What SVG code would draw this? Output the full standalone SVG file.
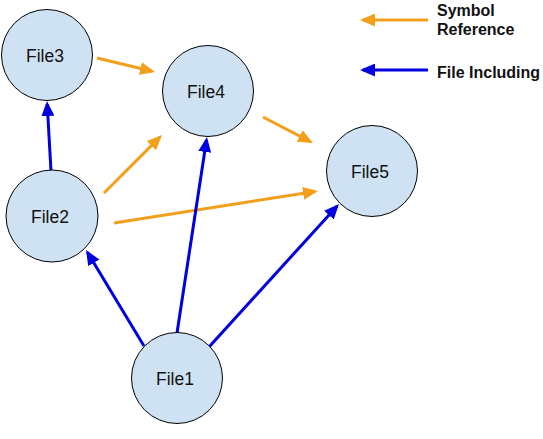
<svg xmlns="http://www.w3.org/2000/svg" width="543" height="439" viewBox="0 0 543 439">
<style>
.node circle{fill:#cfe2f3;stroke:#000;stroke-width:1}
.node text{font-family:"Liberation Sans",Arial,sans-serif;font-size:17.5px;fill:#111;text-anchor:middle}
.sym{stroke:#f29f1c;stroke-width:3;fill:none;marker-end:url(#ho)}
.inc{stroke:#0000e0;stroke-width:3;fill:none;marker-end:url(#hb)}
.leg{font-family:"Liberation Sans",Arial,sans-serif;font-size:16px;font-weight:bold;fill:#111}
</style>
<defs>
<marker id="ho" markerUnits="userSpaceOnUse" markerWidth="15" markerHeight="13" refX="12" refY="6.5" orient="auto"><path d="M0,0 L15,6.5 L0,13 z" fill="#f29f1c"/></marker>
<marker id="hb" markerUnits="userSpaceOnUse" markerWidth="15" markerHeight="13" refX="12" refY="6.5" orient="auto"><path d="M0,0 L15,6.5 L0,13 z" fill="#0000e0"/></marker>
</defs>
<rect width="543" height="439" fill="#fff"/>
<g id="connectors">
<line class="sym" x1="97" y1="58" x2="152.1" y2="71.3"/>
<line class="sym" x1="104" y1="193" x2="159.9" y2="137.1"/>
<line class="sym" x1="263" y1="117" x2="310.3" y2="141.6"/>
<line class="sym" x1="114" y1="223" x2="315" y2="191.5"/>
<line class="inc" x1="51" y1="171" x2="47.2" y2="104"/>
<line class="inc" x1="144" y1="346" x2="87.6" y2="252.6"/>
<line class="inc" x1="177" y1="333" x2="206.5" y2="140"/>
<line class="inc" x1="209" y1="347" x2="337" y2="206.2"/>
</g>
<g id="legend">
<line class="sym" x1="428" y1="20" x2="363" y2="20"/>
<line class="inc" x1="428" y1="70" x2="363" y2="70"/>
<text class="leg" x="437" y="15.5">Symbol</text>
<text class="leg" x="437" y="34.5">Reference</text>
<text class="leg" x="437" y="78">File Including</text>
</g>
<g id="File3" class="node"><circle cx="47" cy="55" r="45.5"/><text x="45" y="61.5">File3</text></g>
<g id="File4" class="node"><circle cx="208" cy="91" r="45.5"/><text x="206" y="97.5">File4</text></g>
<g id="File5" class="node"><circle cx="372" cy="171" r="45.5"/><text x="370" y="177.5">File5</text></g>
<g id="File2" class="node"><circle cx="52" cy="216" r="46"/><text x="50" y="222.5">File2</text></g>
<g id="File1" class="node"><circle cx="177" cy="378" r="45.5"/><text x="175" y="384.5">File1</text></g>
</svg>
